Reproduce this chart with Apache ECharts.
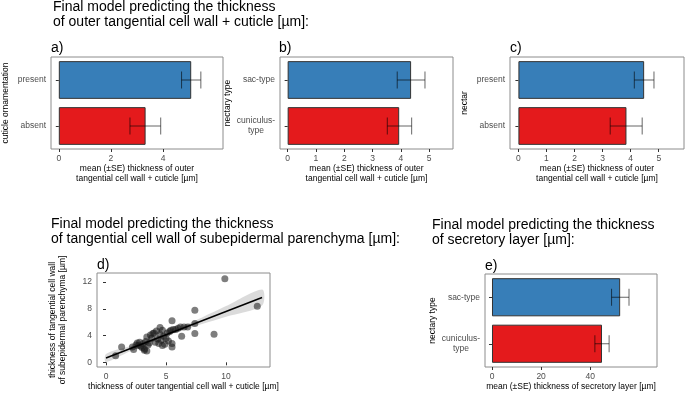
<!DOCTYPE html>
<html>
<head>
<meta charset="utf-8">
<script src="https://cdn.jsdelivr.net/npm/echarts@6/dist/echarts.min.js"></script>
<style>
  html, body { margin: 0; padding: 0; background: #fff; }
  #chart { width: 685px; height: 393px; }
</style>
</head>
<body>
<div id="chart"></div>
<script>
// panel a: cuticle ornamentation
const ornCats = ['absent', 'present']
const ornMean = [3.33, 5.08]
const ornLo = [2.73, 4.71]
const ornHi = [3.91, 5.45]

// panel b: nectary type (outer wall)
const typeCats = ['cuniculus-\ntype', 'sac-type']
const typeMean = [3.94, 4.36]
const typeLo = [3.52, 3.87]
const typeHi = [4.38, 4.85]

// panel c: nectar
const nectarCats = ['absent', 'present']
const nectarMean = [3.85, 4.48]
const nectarLo = [3.27, 4.13]
const nectarHi = [4.41, 4.83]

// panel d: scatter outer wall vs subepidermal wall
const outerWall = [0.8, 1.3, 2.2, 2.3, 2.5, 2.6, 2.7, 2.8, 2.9, 3.0, 3.1, 3.2, 3.2, 3.3, 3.4, 3.4,
  3.5, 3.6, 3.7, 3.8, 3.9, 4.0, 4.1, 4.2, 4.3, 4.4, 4.5, 4.5, 4.6, 4.7, 4.7, 4.8, 4.9, 5.0,
  5.1, 5.2, 5.3, 5.4, 5.5, 5.5, 5.5, 5.6, 5.8, 6.0, 6.2, 6.3, 6.5, 6.8, 7.4, 7.4, 7.4, 9.0, 9.9, 12.6]
const subepWall = [1.0, 2.3, 2.3, 1.9, 2.6, 2.9, 2.5, 3.0, 2.4, 2.2, 2.8, 1.8, 2.0, 3.1, 1.7, 3.8,
  2.6, 2.9, 4.1, 3.6, 4.3, 4.4, 3.0, 4.7, 3.5, 2.8, 5.2, 4.2, 3.3, 2.5, 4.8, 3.9, 2.7, 3.6,
  4.4, 3.2, 4.6, 4.8, 6.2, 2.3, 2.8, 4.9, 4.9, 5.1, 5.3, 3.9, 5.3, 5.3, 7.8, 5.8, 4.3, 4.2, 12.5, 8.4]
const fitX = [0, 13]
const fitY = [0.65, 9.7]
const bandX = [0, 2, 4, 4.6, 6, 8, 10, 13]
const bandLo = [0.05, 1.64, 3.17, 3.6, 4.53, 5.72, 6.81, 8.5]
const bandHi = [1.25, 2.44, 3.69, 4.1, 5.13, 6.72, 8.41, 10.9]

// panel e: secretory layer by nectary type
const secCats = ['cuniculus-\ntype', 'sac-type']
const secMean = [44.8, 52.2]
const secLo = [41.9, 48.7]
const secHi = [47.7, 55.8]

const FONT = 'Liberation Sans'
const TXT = '#4d4d4d'
const barColors = ['#e41a1c', '#377eb8']

const chart = echarts.init(document.getElementById('chart'))

function catLabel(v) {
  if (v.indexOf('\n') < 0) return v
  return v.split('\n').map((s) => '{c|' + s + '}').join('\n')
}

function xAxisCfg(grid, min, max, ticks, name, gap) {
  return {
    type: 'value',
    gridIndex: grid,
    min: min,
    max: max,
    name: name,
    nameLocation: 'middle',
    nameGap: gap,
    nameTextStyle: { fontSize: 8.5, color: '#000', lineHeight: 10, fontFamily: FONT },
    axisLine: { show: false },
    axisTick: { show: true, length: 3, customValues: ticks, lineStyle: { color: '#333' } },
    axisLabel: { customValues: ticks, fontSize: 8.5, color: TXT, margin: 5, fontFamily: FONT },
    splitLine: { show: false }
  }
}

function yCatCfg(grid, cats, name, gap) {
  return {
    type: 'category',
    gridIndex: grid,
    data: cats,
    name: name,
    nameLocation: 'middle',
    nameGap: gap,
    nameTextStyle: { fontSize: 8.5, color: '#000', lineHeight: 10, fontFamily: FONT },
    axisLine: { show: false },
    axisTick: { show: true, length: 3, alignWithLabel: true, lineStyle: { color: '#333' } },
    axisLabel: {
      fontSize: 8.5,
      color: TXT,
      margin: 5,
      lineHeight: 10,
      fontFamily: FONT,
      formatter: catLabel,
      rich: { c: { width: 38, align: 'center', fontSize: 8.5, color: TXT, lineHeight: 10, fontFamily: FONT } }
    }
  }
}

function barSeries(idx, means) {
  return {
    type: 'bar',
    xAxisIndex: idx,
    yAxisIndex: idx,
    barCategoryGap: '18%',
    data: means.map((v, i) => ({ value: v, itemStyle: { color: barColors[i] } })),
    itemStyle: { borderColor: '#333', borderWidth: 1 },
    silent: true
  }
}

function errSeries(idx, lo, hi) {
  return {
    type: 'custom',
    xAxisIndex: idx,
    yAxisIndex: idx,
    z: 5,
    silent: true,
    data: lo.map((v, i) => [v, hi[i], i]),
    encode: { x: [0, 1], y: 2 },
    renderItem(params, api) {
      const c = api.value(2)
      const p1 = api.coord([api.value(0), c])
      const p2 = api.coord([api.value(1), c])
      const h = 8.5
      const st = { stroke: 'rgba(0,0,0,0.6)', lineWidth: 1 }
      return {
        type: 'group',
        children: [
          { type: 'line', shape: { x1: p1[0], y1: p1[1], x2: p2[0], y2: p2[1] }, style: st },
          { type: 'line', shape: { x1: p1[0], y1: p1[1] - h, x2: p1[0], y2: p1[1] + h }, style: st },
          { type: 'line', shape: { x1: p2[0], y1: p2[1] - h, x2: p2[0], y2: p2[1] + h }, style: st }
        ]
      }
    }
  }
}

const gridStyle = { show: true, borderColor: '#8c8c8c', borderWidth: 1, backgroundColor: 'transparent', containLabel: false }
const xName1 = 'mean (±SE) thickness of outer\ntangential cell wall + cuticle [µm]'
const titleStyle = { fontSize: 14, fontWeight: 'normal', color: '#000', lineHeight: 15.5, fontFamily: FONT }
const tagStyle = { fontSize: 14, fontWeight: 'normal', color: '#000', fontFamily: FONT }

chart.setOption({
  animation: false,
  textStyle: { fontFamily: FONT },
  title: [
    { text: 'Final model predicting the thickness\nof outer tangential cell wall + cuticle [µm]:', left: 53, top: -1, padding: 0, textStyle: titleStyle },
    { text: 'Final model predicting the thickness\nof tangential cell wall of subepidermal parenchyma [µm]:', left: 51, top: 216, padding: 0, textStyle: titleStyle },
    { text: 'Final model predicting the thickness\nof secretory layer [µm]:', left: 432, top: 217, padding: 0, textStyle: titleStyle },
    { text: 'a)', left: 51, top: 41, padding: 0, textStyle: tagStyle },
    { text: 'b)', left: 279, top: 41, padding: 0, textStyle: tagStyle },
    { text: 'c)', left: 510, top: 41, padding: 0, textStyle: tagStyle },
    { text: 'd)', left: 97, top: 258, padding: 0, textStyle: tagStyle },
    { text: 'e)', left: 485, top: 259, padding: 0, textStyle: tagStyle }
  ],
  grid: [
    Object.assign({ left: 51, top: 57, width: 172, height: 92 }, gridStyle),
    Object.assign({ left: 280, top: 57, width: 173, height: 92 }, gridStyle),
    Object.assign({ left: 510, top: 57, width: 174, height: 92 }, gridStyle),
    Object.assign({ left: 97, top: 273, width: 173, height: 94 }, gridStyle),
    Object.assign({ left: 485, top: 274, width: 172, height: 93 }, gridStyle)
  ],
  xAxis: [
    xAxisCfg(0, -0.3, 6.3, [0, 2, 4], xName1, 14),
    xAxisCfg(1, -0.27, 5.84, [0, 1, 2, 3, 4, 5], xName1, 14),
    xAxisCfg(2, -0.3, 5.9, [0, 1, 2, 3, 4, 5], xName1, 11),
    xAxisCfg(3, -0.75, 13.66, [0, 5, 10], 'thickness of outer tangential cell wall + cuticle [µm]', 14),
    xAxisCfg(4, -2.85, 67.2, [0, 20, 40], 'mean (±SE) thickness of secretory layer [µm]', 13)
  ],
  yAxis: [
    yCatCfg(0, ornCats, 'cuticle ornamentation', 40),
    yCatCfg(1, typeCats, 'nectary type', 42),
    yCatCfg(2, nectarCats, 'nectar', 40),
    {
      type: 'value',
      gridIndex: 3,
      min: -0.7,
      max: 13.36,
      name: 'thickness of tangential cell wall\nof subepidermal parenchyma [µm]',
      nameLocation: 'middle',
      nameGap: 29,
      nameTextStyle: { fontSize: 8.5, color: '#000', lineHeight: 10, fontFamily: FONT },
      axisLine: { show: false },
      axisTick: { show: true, length: 3, customValues: [0, 4, 8, 12], lineStyle: { color: '#333' } },
      axisLabel: { customValues: [0, 4, 8, 12], fontSize: 8.5, color: TXT, margin: 5, fontFamily: FONT },
      splitLine: { show: false }
    },
    yCatCfg(4, secCats, 'nectary type', 45)
  ],
  series: [
    barSeries(0, ornMean), errSeries(0, ornLo, ornHi),
    barSeries(1, typeMean), errSeries(1, typeLo, typeHi),
    barSeries(2, nectarMean), errSeries(2, nectarLo, nectarHi),
    barSeries(4, secMean), errSeries(4, secLo, secHi),
    {
      type: 'custom',
      xAxisIndex: 3,
      yAxisIndex: 3,
      silent: true,
      z: 1,
      data: [0],
      renderItem(params, api) {
        const pts = []
        bandX.forEach((x, i) => pts.push(api.coord([x, bandHi[i]])))
        for (let i = bandX.length - 1; i >= 0; i--) pts.push(api.coord([bandX[i], bandLo[i]]))
        return { type: 'polygon', shape: { points: pts, smooth: 0.3 }, style: { fill: 'rgba(153,153,153,0.35)' } }
      }
    },
    {
      type: 'scatter',
      xAxisIndex: 3,
      yAxisIndex: 3,
      symbolSize: 7,
      z: 2,
      itemStyle: { color: 'rgba(25,25,25,0.7)' },
      data: outerWall.map((x, i) => [x, subepWall[i]])
    },
    {
      type: 'line',
      xAxisIndex: 3,
      yAxisIndex: 3,
      z: 3,
      symbol: 'none',
      lineStyle: { color: '#000', width: 1.5 },
      data: fitX.map((x, i) => [x, fitY[i]])
    }
  ]
})
</script>
</body>
</html>
